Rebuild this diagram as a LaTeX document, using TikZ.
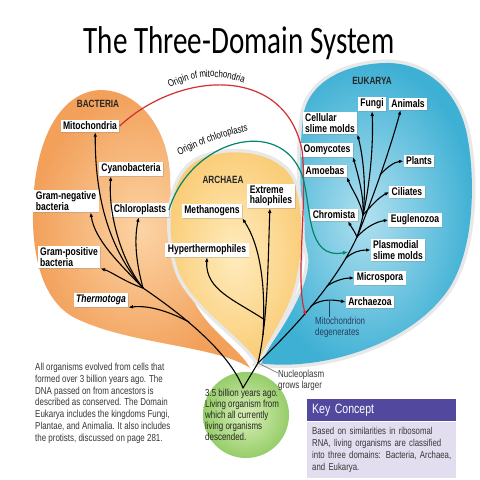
\documentclass[tikz,border=0pt]{standalone}
\usepackage{fontspec}
\newfontfamily\narrowfont{Liberation Sans}[FakeStretch=0.78]
\newfontfamily\titlefont{Carlito}[FakeStretch=0.75]
\usetikzlibrary{arrows.meta,shadows,decorations.text}

\definecolor{bactout}{RGB}{242,160,90}
\definecolor{bactin}{RGB}{252,212,165}
\definecolor{archout}{RGB}{250,205,120}
\definecolor{archin}{RGB}{255,236,190}
\definecolor{eukout}{RGB}{62,176,212}
\definecolor{eukin}{RGB}{176,224,240}
\definecolor{seedout}{RGB}{150,205,105}
\definecolor{seedin}{RGB}{218,240,185}
\definecolor{mitored}{RGB}{212,45,50}
\definecolor{chlorgreen}{RGB}{0,135,105}
\definecolor{keypurple}{RGB}{82,72,158}
\definecolor{keylight}{RGB}{226,222,240}
\definecolor{textgrey}{RGB}{55,55,55}
\definecolor{degblue}{RGB}{40,60,95}

\begin{document}
\begin{tikzpicture}[x=1pt,y=-1pt,
      lbl/.style={fill=white,inner xsep=2.5pt,inner ysep=2pt,align=left,
        font=\narrowfont\bfseries\fontsize{11}{10.5}\selectfont,
        drop shadow={shadow xshift=.8pt,shadow yshift=-.8pt,opacity=.3}},
      domname/.style={font=\narrowfont\bfseries\fontsize{10.5}{11}\selectfont,text=black!85},
      note/.style={inner sep=0pt,align=left,anchor=north west,
        font=\narrowfont\fontsize{10.2}{11.8}\selectfont,text=textgrey},
      br/.style={line width=1.1pt,line cap=round},
      arr/.style={br,-{Latex[length=4.5pt,width=3.6pt]}},
      endo/.style={line width=1.2pt,-{Latex[length=5pt,width=4pt]}},
      rim/.style={preaction={draw=black!9,line width=7pt}}]
    \fill[white] (0,0) rectangle (480,480);
    \useasboundingbox (0,0) rectangle (480,480);

    \node[font=\titlefont\fontsize{38.8}{40}\selectfont,anchor=base] (title) at (239,53) {The Three-Domain System};

    % domains
    \shade[inner color=bactin,outer color=bactout] (250,368)
      .. controls (215,345) and (130,345) .. (75,318)
      .. controls (40,300) and (32,250) .. (33,210)
      .. controls (34,140) and (60,92) .. (100,90)
      .. controls (140,90) and (168,130) .. (170,175)
      .. controls (172,230) and (175,290) .. (215,330)
      .. controls (232,347) and (245,358) .. (250,368) -- cycle;
    \shade[inner color=eukin,outer color=eukout,rim] (258,363)
      .. controls (320,372) and (410,345) .. (448,290)
      .. controls (475,250) and (475,180) .. (468,140)
      .. controls (460,90) and (425,62) .. (385,63)
      .. controls (345,64) and (307,82) .. (303,118)
      .. controls (298,160) and (300,220) .. (308,255)
      .. controls (312,285) and (282,330) .. (258,363) -- cycle;
    \shade[inner color=archin,outer color=archout,rim] (258,362)
      .. controls (240,335) and (190,305) .. (178,270)
      .. controls (165,230) and (168,180) .. (195,162)
      .. controls (220,147) and (270,148) .. (290,175)
      .. controls (305,200) and (305,260) .. (290,300)
      .. controls (280,325) and (265,345) .. (258,362) -- cycle;
    \shade[inner color=seedin,outer color=seedout] (246,415) circle[radius=43pt];

    \node[domname] (bact) at (98,104) {BACTERIA};
    \node[domname] (arch) at (223,180) {ARCHAEA};
    \node[domname] (euk) at (372,81) {EUKARYA};

    % groups
    \node[lbl] (mito) at (90,126) {Mitochondria};
    \node[lbl] (cyano) at (131,169) {Cyanobacteria};
    \node[lbl] (gramneg) at (66,201) {Gram-negative\\bacteria};
    \node[lbl] (chloro) at (140,210) {Chloroplasts};
    \node[lbl] (grampos) at (69,257) {Gram-positive\\bacteria};
    \node[lbl,font=\narrowfont\bfseries\itshape\fontsize{11}{10.5}\selectfont] (thermo) at (101,300) {Thermotoga};
    \node[lbl] (methano) at (212,211) {Methanogens};
    \node[lbl] (halo) at (271,196) {Extreme\\halophiles};
    \node[lbl] (hyper) at (207,250) {Hyperthermophiles};
    \node[lbl] (slime) at (330,123) {Cellular\\slime molds};
    \node[lbl] (oomy) at (327,150) {Oomycotes};
    \node[lbl] (amoeba) at (325,171) {Amoebas};
    \node[lbl] (fungi) at (372,104) {Fungi};
    \node[lbl] (animals) at (408,104) {Animals};
    \node[lbl] (plants) at (419,161) {Plants};
    \node[lbl] (ciliates) at (407,192) {Ciliates};
    \node[lbl] (chromista) at (334,215) {Chromista};
    \node[lbl] (eugleno) at (415,220) {Euglenozoa};
    \node[lbl] (plasmo) at (398,250) {Plasmodial\\slime molds};
    \node[lbl] (micro) at (380,278) {Microspora};
    \node[lbl] (archaezoa) at (370,302) {Archaezoa};

    % branch points
    \coordinate (root) at (243,388);
    \coordinate (split) at (258,363);
    \coordinate (b1) at (189,322);
    \coordinate (b2) at (143,288);
    \coordinate (a1) at (263,335);
    \coordinate (a2) at (265,320);
    \coordinate (e1) at (311,306);
    \coordinate (e2) at (327,286);
    \coordinate (e3) at (346,258);
    \coordinate (e4) at (357,237);
    \coordinate (e5) at (363,215);
    \coordinate (e6) at (380,175);
    \coordinate (md) at (329,300);

    % bacteria
    \draw[br] (root) -- (split);
    \draw[br] (root) .. controls (230,355) and (190,320) .. (b2);
    \draw[arr] (b1) .. controls (170,312) and (150,305) .. (thermo.south east);
    \draw[arr] (b2) .. controls (125,282) and (112,272) .. (grampos.south east);
    \draw[arr] (b2) .. controls (110,250) and (95,200) .. (mito.-50);
    \draw[arr] (b2) .. controls (122,262) and (108,215) .. (cyano.200);
    \draw[arr] (b2) .. controls (118,262) and (95,240) .. (gramneg.-25);
    \draw[arr] (b2) .. controls (136,262) and (134,240) .. (chloro.-100);

    % archaea
    \draw[arr] (split) .. controls (268,320) and (268,260) .. (halo.-95);
    \draw[arr] (a1) .. controls (266,285) and (260,245) .. (methano.south east);
    \draw[arr] (a2) .. controls (235,300) and (205,290) .. (hyper.south);

    % eukarya
    \draw[br] (split) .. controls (290,332) and (335,285) .. (e4);
    \draw[arr] (e1) .. controls (322,298) and (335,300) .. (archaezoa.west);
    \draw[arr] (e2) .. controls (336,280) and (345,278) .. (micro.west);
    \draw[arr] (e3) .. controls (353,252) and (360,250) .. (plasmo.west);
    \draw[arr] (e4) .. controls (365,228) and (375,222) .. (eugleno.west);
    \draw[arr] (e4) .. controls (355,232) and (352,228) .. (chromista.-24);
    \draw[arr] (e4) .. controls (368,205) and (374,150) .. (fungi.south);
    \draw[arr] (e4) .. controls (372,200) and (390,150) .. (animals.-140);
    \draw[arr] (e6) .. controls (388,166) and (395,162) .. (plants.west);
    \draw[arr] (e5) .. controls (372,205) and (378,198) .. (ciliates.west);
    \draw[arr] (e5) .. controls (366,190) and (364,160) .. (slime.south east);
    \draw[arr] (e5) .. controls (364,195) and (358,175) .. (oomy.south east);
    \draw[arr] (e5) .. controls (360,200) and (352,190) .. (amoeba.south east);

    % endosymbiosis
    \draw[endo,mitored] (mito.east) .. controls (180,70) and (285,65) .. (302,150)
      .. controls (308,200) and (295,280) .. (306,316);
    \draw[endo,chlorgreen] (chloro.east) .. controls (190,140) and (280,115) .. (302,175)
      .. controls (312,205) and (305,260) .. (348,252);
    \path[decorate,decoration={text along path,text align=left,
      text={|\narrowfont\fontsize{10}{10}\selectfont|Origin of mitochondria}}]
      (170,88) .. controls (195,74) and (228,72) .. (258,90);
    \path[decorate,decoration={text along path,text align=left,
      text={|\narrowfont\fontsize{10}{10}\selectfont|Origin of chloroplasts}}]
      (179,155) .. controls (207,143) and (235,130) .. (268,129);

    % notes
    \node[note,text=degblue,font=\narrowfont\fontsize{10.2}{11}\selectfont] (mitdeg) at (315,317) {Mitochondrion\\degenerates};
    \draw[line width=.6pt,degblue] (md) -- (md |- mitdeg.north);
    \node[note,font=\narrowfont\fontsize{10.2}{11}\selectfont] (nucl) at (278,370) {Nucleoplasm\\grows larger};
    \draw[line width=.6pt,black!60] (split) -- ([yshift=-3pt]nucl.north west);
    \node[note,text=black!85,font=\narrowfont\fontsize{10.2}{11}\selectfont] (seed) at (205,388.5) {3.5 billion years ago.\\Living organism from\\which all currently\\living organisms\\descended.};
    \node[note] (summary) at (35,363) {All organisms evolved from cells that\\formed over 3 billion years ago. The\\DNA passed on from ancestors is\\described as conserved. The Domain\\Eukarya includes the kingdoms Fungi,\\Plantae, and Animalia. It also includes\\the protists, discussed on page 281.};

    % key concept
    \node[fill=keypurple,text=white,anchor=north west,minimum height=22pt,text width=139pt,
      inner xsep=5pt,align=left,font=\narrowfont\fontsize{13.5}{14}\selectfont] (keyhd) at (307,399) {Key Concept};
    \node[fill=keylight,text=textgrey,anchor=north west,minimum height=56pt,text width=145pt,
      inner xsep=2pt,align=left,font=\narrowfont\fontsize{10}{12}\selectfont] (keybd) at (keyhd.south west)
      {\hspace*{3pt}Based on similarities in ribosomal\\\hspace*{3pt}RNA, living organisms are classified\\\hspace*{3pt}into three domains: Bacteria, Archaea,\\\hspace*{3pt}and Eukarya.};
  \end{tikzpicture}
\end{document}
